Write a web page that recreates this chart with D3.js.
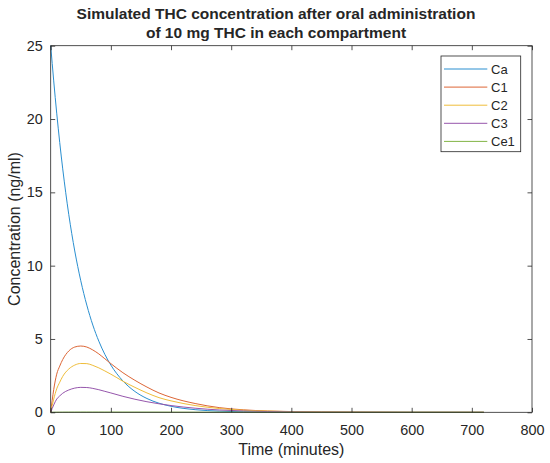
<!DOCTYPE html>
<html>
<head>
<meta charset="utf-8">
<script src="https://cdn.jsdelivr.net/npm/d3@7"></script>
<style>
  body { margin: 0; background: #fff; }
  text { font-family: "Liberation Sans", Arial, sans-serif; fill: #262626; }
</style>
</head>
<body>
<script>
var w = 550;
var h = 463;
var margin = { left: 50.7, right: 18, top: 45.7, bottom: 50.7 };

// sample times (minutes)
var times = [0, 5, 10, 15, 20, 30, 40, 50, 60, 70, 80, 90, 100, 120, 140, 160, 180, 200, 240, 280, 320, 360, 400, 450, 500, 600, 720];
// concentrations (ng/ml)
var Ca  = [25, 22.6, 20.4, 18.4, 16.6, 13.5, 11.0, 8.97, 7.31, 5.95, 4.85, 3.95, 3.22, 2.14, 1.42, 0.94, 0.62, 0.41, 0.18, 0.08, 0.035, 0.015, 0.007, 0.003, 0.001, 0, 0];
var C1  = [0, 1.55, 2.6, 3.15, 3.6, 4.18, 4.45, 4.52, 4.45, 4.25, 3.98, 3.65, 3.32, 2.7, 2.18, 1.72, 1.32, 1.02, 0.6, 0.32, 0.17, 0.09, 0.05, 0.02, 0.01, 0, 0];
var C2  = [0, 0.9, 1.6, 2.05, 2.45, 2.95, 3.22, 3.33, 3.32, 3.2, 3.03, 2.82, 2.6, 2.12, 1.7, 1.32, 1.0, 0.78, 0.46, 0.26, 0.14, 0.08, 0.04, 0.02, 0.01, 0, 0];
var C3  = [0, 0.5, 0.9, 1.12, 1.3, 1.52, 1.65, 1.7, 1.69, 1.63, 1.54, 1.43, 1.32, 1.09, 0.89, 0.72, 0.58, 0.46, 0.28, 0.16, 0.09, 0.05, 0.03, 0.015, 0.01, 0, 0];
var Ce1 = [0, 0.004, 0.007, 0.009, 0.011, 0.013, 0.015, 0.016, 0.016, 0.016, 0.016, 0.015, 0.015, 0.014, 0.013, 0.012, 0.011, 0.01, 0.009, 0.008, 0.007, 0.006, 0.005, 0.004, 0.004, 0.003, 0.002];

var names = ['Ca', 'C1', 'C2', 'C3', 'Ce1'];
// matlab default colours, a bit lighter like the thin lines in the picture
var colors = ['#2a8fd0', '#dd6636', '#efbd3a', '#9656ac', '#82b446'];
var series = [Ca, C1, C2, C3, Ce1];

var xTicks = [0, 100, 200, 300, 400, 500, 600, 700, 800];
var yTicks = [0, 5, 10, 15, 20, 25];

var titleLines = ['Simulated THC concentration after oral administration', 'of 10 mg THC in each compartment'];

var svg = d3.select('body').append('svg').attr('width', w).attr('height', h);

var x = d3.scaleLinear().domain([0, 800]).range([margin.left, w - margin.right]);
var y = d3.scaleLinear().domain([0, 25]).range([h - margin.bottom, margin.top]);

// lines
var line = d3.line()
  .x(function (d, i) { return x(times[i]); })
  .y(function (d) { return y(d); })
  .curve(d3.curveMonotoneX);

svg.selectAll('path.series')
  .data(series)
  .enter()
  .append('path')
  .attr('class', 'series')
  .attr('d', line)
  .style('fill', 'none')
  .style('stroke', function (d, i) { return colors[i]; })
  .style('stroke-width', 1);

// axes (ticks inward, mirrored like matlab box)
function styleAxis(g) {
  g.select('.domain').remove();
  g.selectAll('line').style('stroke', '#262626').style('stroke-width', 0.8);
  g.selectAll('text').style('font-size', '14.4px').style('fill', '#262626')
    .style('font-family', '"Liberation Sans", Arial, sans-serif');
}

svg.append('g')
  .attr('transform', 'translate(0,' + y(0) + ')')
  .call(d3.axisBottom(x).tickValues(xTicks).tickSizeInner(-4.5).tickSizeOuter(0).tickPadding(12.5))
  .call(styleAxis);

svg.append('g')
  .attr('transform', 'translate(0,' + y(25) + ')')
  .call(d3.axisTop(x).tickValues(xTicks).tickSizeInner(-4.5).tickSizeOuter(0).tickFormat(''))
  .call(styleAxis);

svg.append('g')
  .attr('transform', 'translate(' + x(0) + ',0)')
  .call(d3.axisLeft(y).tickValues(yTicks).tickSizeInner(-4.5).tickSizeOuter(0).tickPadding(8))
  .call(styleAxis);

svg.append('g')
  .attr('transform', 'translate(' + x(800) + ',0)')
  .call(d3.axisRight(y).tickValues(yTicks).tickSizeInner(-4.5).tickSizeOuter(0).tickFormat(''))
  .call(styleAxis);

// box
svg.append('rect')
  .attr('x', x(0))
  .attr('y', y(25))
  .attr('width', x(800) - x(0))
  .attr('height', y(0) - y(25))
  .style('fill', 'none')
  .style('stroke', '#262626')
  .style('stroke-width', 0.8);

// title
svg.selectAll('text.title')
  .data(titleLines)
  .enter()
  .append('text')
  .attr('class', 'title')
  .attr('x', 276)
  .attr('y', function (d, i) { return 18.5 + i * 19.5; })
  .attr('text-anchor', 'middle')
  .style('font-size', '15.5px')
  .style('font-weight', 'bold')
  .text(function (d) { return d; });

// axis labels
svg.append('text')
  .attr('x', (x(0) + x(800)) / 2)
  .attr('y', 455)
  .attr('text-anchor', 'middle')
  .style('font-size', '16px')
  .text('Time (minutes)');

svg.append('text')
  .attr('transform', 'translate(20,' + (y(0) + y(25)) / 2 + ') rotate(-90)')
  .attr('text-anchor', 'middle')
  .style('font-size', '16px')
  .text('Concentration (ng/ml)');

// legend
var legend = { x: 441, y: 56, w: 79.7, h: 95.7 };
svg.append('rect')
  .attr('x', legend.x)
  .attr('y', legend.y)
  .attr('width', legend.w)
  .attr('height', legend.h)
  .style('fill', '#fff')
  .style('stroke', '#262626')
  .style('stroke-width', 0.8);

var items = svg.selectAll('g.item')
  .data(names)
  .enter()
  .append('g')
  .attr('class', 'item')
  .attr('transform', function (d, i) { return 'translate(0,' + (69 + i * 18.1) + ')'; });

items.append('line')
  .attr('x1', 444)
  .attr('x2', 487.3)
  .style('stroke', function (d, i) { return colors[i]; })
  .style('stroke-width', 1);

items.append('text')
  .attr('x', 491)
  .attr('dy', '0.36em')
  .style('font-size', '13px')
  .text(function (d) { return d; });
</script>
</body>
</html>
